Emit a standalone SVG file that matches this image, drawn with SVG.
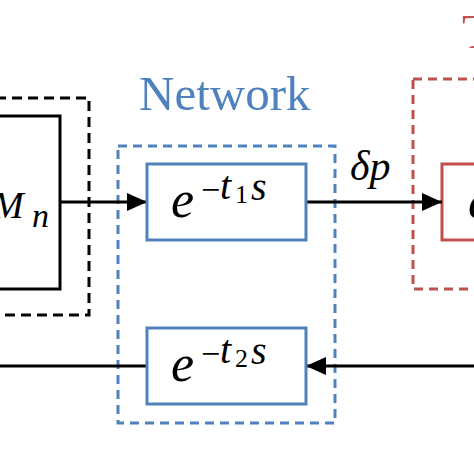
<svg xmlns="http://www.w3.org/2000/svg" width="474" height="474" viewBox="0 0 474 474">
<defs>
<style>
.blk{fill:none;stroke:#000;stroke-width:3}
.bdash{fill:none;stroke:#000;stroke-width:3;stroke-dasharray:10 6}
.ndash{fill:none;stroke:#4f81bd;stroke-width:3;stroke-dasharray:9 6}
.rdash{fill:none;stroke:#c0504d;stroke-width:3;stroke-dasharray:9 6}
.nbox{fill:#fff;stroke:#4f81bd;stroke-width:3}
.rbox{fill:#fff;stroke:#c0504d;stroke-width:3}
.conn{fill:none;stroke:#000;stroke-width:3}
.m{font-family:"Liberation Serif","Times New Roman",serif;font-style:italic;fill:#000}
.r{font-family:"Liberation Serif","Times New Roman",serif;fill:#000}
.lbl{font-family:"Liberation Serif","Times New Roman",serif;font-size:49px}
</style>
<marker id="ah" viewBox="0 0 20 18" refX="20" refY="9" markerWidth="20" markerHeight="18" markerUnits="userSpaceOnUse" orient="auto">
<path d="M0,0 L20,9 L0,18 Z" fill="#000"/>
</marker>
</defs>
<rect width="474" height="474" fill="#fff"/>
<g id="controller-group">
<rect class="bdash" x="-20" y="98" width="109" height="217"/>
</g>
<g id="controller">
<rect class="blk" x="-20" y="116" width="80" height="173"/>
<text class="m" x="-8" y="218" font-size="38">M</text>
<text class="m" x="32" y="227" font-size="34">n</text>
</g>
<g id="network-group">
<rect class="ndash" x="118" y="146" width="217" height="277"/>
<text class="lbl" x="139" y="110" fill="#4f81bd">Network</text>
</g>
<g id="red-group">
<rect class="rdash" x="413" y="79" width="80" height="210"/>
<text class="lbl" x="462" y="48" fill="#c0504d">T</text>
</g>
<g id="plant">
<rect class="rbox" x="442" y="164" width="60" height="76"/>
<text class="m" x="468" y="218" font-size="50">e</text>
</g>
<g id="connectors">
<line class="conn" x1="60" y1="202" x2="147" y2="202" marker-end="url(#ah)"/>
<line class="conn" x1="306" y1="202" x2="442" y2="202" marker-end="url(#ah)"/>
<line class="conn" x1="474" y1="366" x2="306" y2="366" marker-end="url(#ah)"/>
<line class="conn" x1="147" y1="366" x2="0" y2="366"/>
<text class="m" x="350" y="180" font-size="42">δp</text>
</g>
<g id="delay1">
<rect class="nbox" x="147" y="164" width="159" height="76"/>
<text class="m" x="171" y="217" font-size="52">e</text>
<text class="r" x="201" y="201" font-size="34">−</text>
<text class="m" x="220" y="199" font-size="40">t</text>
<text class="r" x="235" y="203" font-size="26">1</text>
<text class="m" x="251" y="200" font-size="40">s</text>
</g>
<g id="delay2">
<rect class="nbox" x="147" y="328" width="159" height="76"/>
<text class="m" x="171" y="381" font-size="52">e</text>
<text class="r" x="201" y="365" font-size="34">−</text>
<text class="m" x="220" y="363" font-size="40">t</text>
<text class="r" x="235" y="367" font-size="26">2</text>
<text class="m" x="251" y="364" font-size="40">s</text>
</g>
</svg>
